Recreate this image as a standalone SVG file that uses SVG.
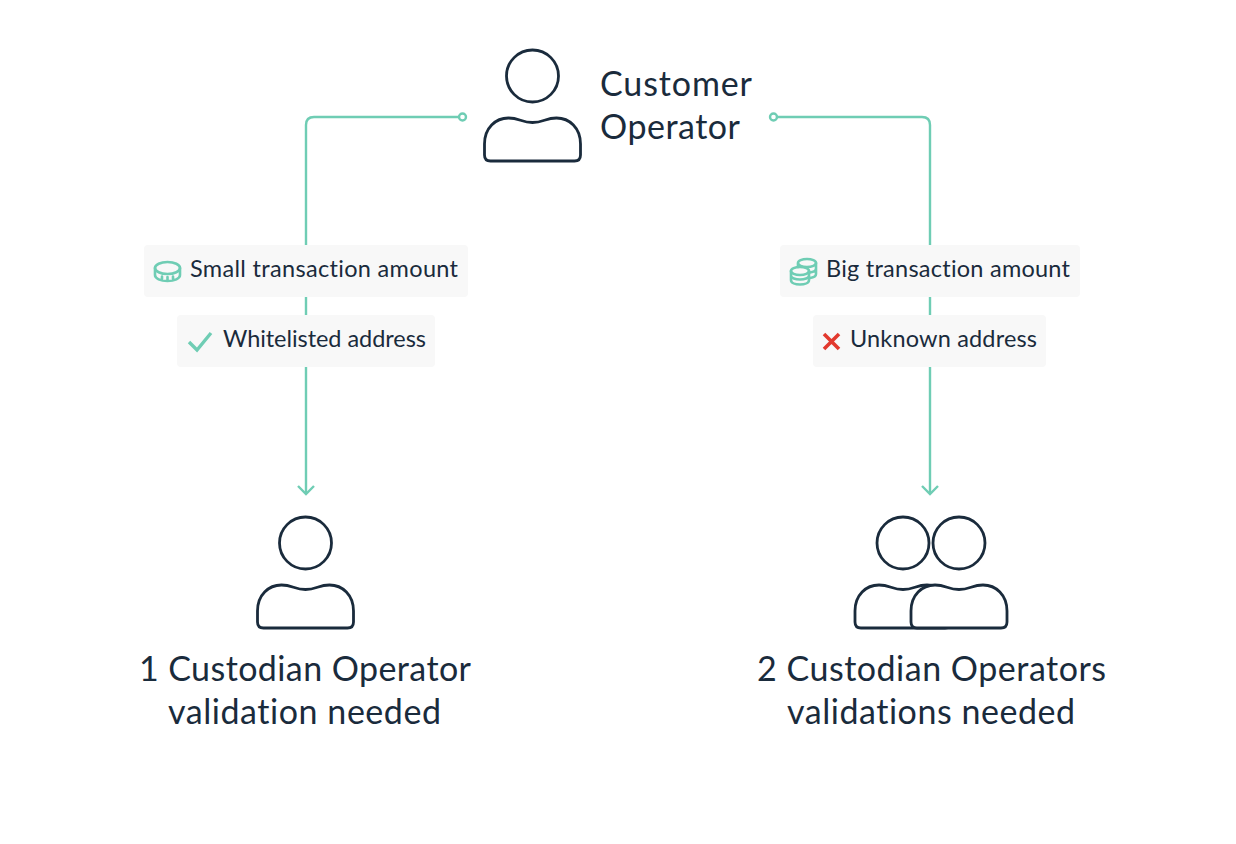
<svg xmlns="http://www.w3.org/2000/svg" width="1236" height="844" viewBox="0 0 1236 844">
<style>
text{font-family:"Lato","Noto Sans",sans-serif;fill:#1a2b3c;font-variant-ligatures:none}
.big{font-size:34px}
.small{font-size:23.500px}
.conn{fill:none;stroke:#6fcdb4;stroke-width:2.400}
.lab{fill:#f8f8f8}
.ic{fill:none;stroke:#6fcdb4;stroke-width:2.600;stroke-linejoin:round;stroke-linecap:round}
.p{fill:#fff;stroke:#1a2b3c;stroke-width:2.800;stroke-linejoin:round}
</style>
<defs>
<g id="person">
<circle class="p" cx="0" cy="0" r="26"/>
<path class="p" d="M-42,85H42Q48,85 48,79V68C48,52 37,42 24,42C13,42 11,46.500 0,46.500C-11,46.500 -13,42 -24,42C-37,42 -48,52 -48,68V79Q-48,85 -42,85Z"/>
</g>
</defs>
<rect width="1236" height="844" fill="#fff"/>
<g id="connectors">
<path class="conn" d="M459,117H314Q306,117 306,125V494"/>
<path class="conn" d="M777,117H922Q930,117 930,125V494"/>
<circle class="conn" cx="462.500" cy="117" r="3.500"/>
<circle class="conn" cx="773.500" cy="117" r="3.500"/>
<path class="conn" d="M298,486L306,494L314,486"/>
<path class="conn" d="M922,486L930,494L938,486"/>
</g>
<g id="customer-operator">
<use href="#person" x="532.500" y="76"/>
<text class="big" x="600" y="96" textLength="152">Customer</text>
<text class="big" x="600" y="139" textLength="140">Operator</text>
</g>
<g id="small-amount">
<rect class="lab" x="144" y="245" width="324" height="52" rx="4"/>
<ellipse class="ic" cx="167.500" cy="268" rx="12.500" ry="6"/>
<path class="ic" d="M155,268V275C155,278.500 160.500,281 167.500,281C174.500,281 180,278.500 180,275V268M162,276.500V279M167.500,277V280M173,276.500V279"/>
<text class="small" x="190" y="277" textLength="268">Small transaction amount</text>
</g>
<g id="whitelisted">
<rect class="lab" x="177" y="315" width="258" height="52" rx="4"/>
<path d="M189,342L197,350L211,333" fill="none" stroke="#6fcdb4" stroke-width="3.400"/>
<text class="small" x="223" y="347" textLength="203">Whitelisted address</text>
</g>
<g id="big-amount">
<rect class="lab" x="780" y="245" width="300" height="52" rx="4"/>
<ellipse class="ic" cx="807" cy="263" rx="9" ry="4"/>
<path class="ic" d="M816,263V274C816,276 813.500,277.500 810,278M798,267V264M816,268.500C816,270.500 813.500,272 810,272.500"/>
<ellipse class="ic" cx="800" cy="271" rx="9" ry="4"/>
<path class="ic" d="M791,271V280C791,283 795.500,284.500 800,284.500C804.500,284.500 809,283 809,280V271M791,275.500C791,278 795.500,279.500 800,279.500C804.500,279.500 809,278 809,275.500"/>
<text class="small" x="826" y="277" textLength="244">Big transaction amount</text>
</g>
<g id="unknown">
<rect class="lab" x="813" y="315" width="233" height="52" rx="4"/>
<path d="M824,334L839,349M839,334L824,349" fill="none" stroke="#e2392e" stroke-width="3.600"/>
<text class="small" x="850" y="347" textLength="187">Unknown address</text>
</g>
<g id="one-custodian">
<use href="#person" x="305.500" y="543"/>
<text class="big" x="139" y="681" textLength="332">1 Custodian Operator</text>
<text class="big" x="168" y="724" textLength="273">validation needed</text>
</g>
<g id="two-custodians">
<use href="#person" x="903" y="543"/>
<use href="#person" x="959" y="543"/>
<text class="big" x="757" y="681" textLength="349">2 Custodian Operators</text>
<text class="big" x="787" y="724" textLength="288">validations needed</text>
</g>
</svg>
